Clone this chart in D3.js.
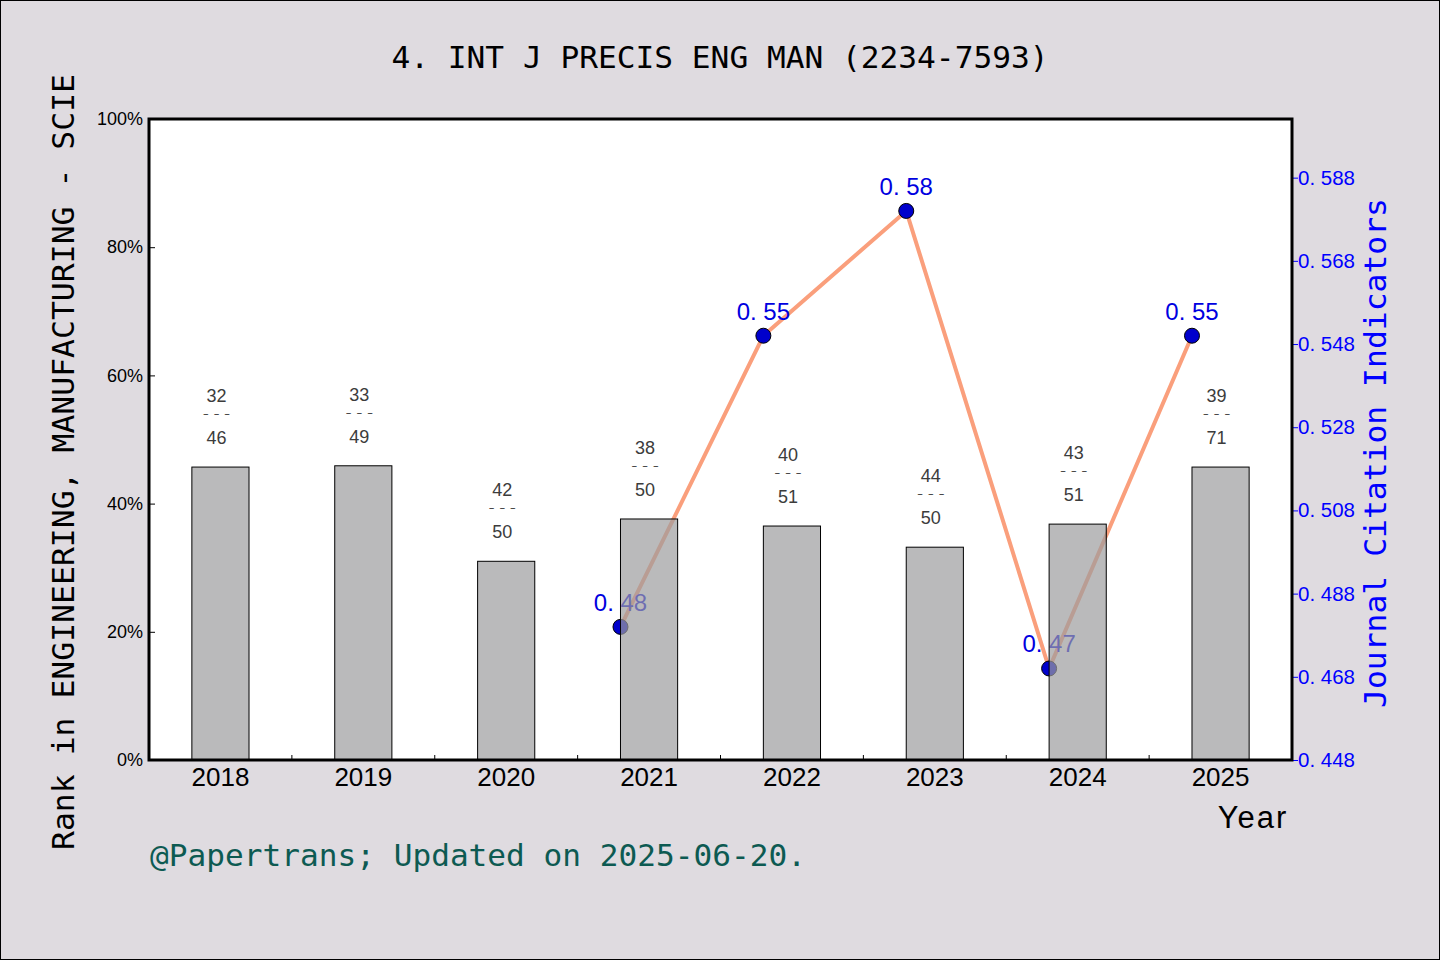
<!DOCTYPE html>
<html>
<head>
<meta charset="utf-8">
<script src="https://cdn.jsdelivr.net/npm/d3@7"></script>
<style>
  body { margin: 0; background: #dfdbe0; }
  svg { display: block; }
</style>
</head>
<body>
<script>
// chart values
var years = ['2018', '2019', '2020', '2021', '2022', '2023', '2024', '2025'];
var ranks = [32, 33, 42, 38, 40, 44, 43, 39];
var totals = [46, 49, 50, 50, 51, 50, 51, 71];
var barPercent = [45.7, 45.9, 31.0, 37.6, 36.5, 33.2, 36.8, 45.7];
var jciValues = [null, null, null, 0.48, 0.55, 0.58, 0.47, 0.55];
var leftTicks = [0, 20, 40, 60, 80, 100];
var rightTicks = [0.448, 0.468, 0.488, 0.508, 0.528, 0.548, 0.568, 0.588];

var mono = "'DejaVu Sans Mono', 'Liberation Mono', monospace";
var sans = "'Liberation Sans', Arial, sans-serif";

var W = 1440, H = 960;
// note: "top" is taken by window.top, so plot* names
var plotLeft = 149, plotRight = 1292, plotTop = 119, plotBottom = 760;

var svg = d3.select('body').append('svg')
    .attr('width', W)
    .attr('height', H);

// background + outer frame
svg.append('rect')
    .attr('x', 0.5).attr('y', 0.5)
    .attr('width', W - 1).attr('height', H - 1)
    .attr('fill', '#dfdbe0')
    .attr('stroke', '#000').attr('stroke-width', 1);

var x = d3.scaleBand().domain(years).range([plotLeft, plotRight]);
var yL = d3.scaleLinear().domain([0, 100]).range([plotBottom, plotTop]);
var yR = d3.scaleLinear().domain([0.448, 0.6021]).range([plotBottom, plotTop]);

var barW = x.bandwidth() * 0.4;
// the jci points sit on the left edge of each bar
function lineX(year) { return x(year) + (x.bandwidth() - barW) / 2; }

// plot area
svg.append('rect')
    .attr('x', plotLeft).attr('y', plotTop)
    .attr('width', plotRight - plotLeft).attr('height', plotBottom - plotTop)
    .attr('fill', '#fff');

// jci line and points (drawn under the bars)
var pts = years.map(function (y, i) { return { year: y, v: jciValues[i] }; })
    .filter(function (d) { return d.v != null; });

var line = d3.line()
    .x(function (d) { return lineX(d.year); })
    .y(function (d) { return yR(d.v); });

svg.append('path')
    .datum(pts)
    .attr('d', line)
    .attr('fill', 'none')
    .attr('stroke', '#fa9f7c')
    .attr('stroke-width', 4);

svg.selectAll('.jci-label')
    .data(pts)
    .enter().append('text')
    .attr('x', function (d) { return lineX(d.year); })
    .attr('y', function (d) { return yR(d.v) - 16; })
    .attr('text-anchor', 'middle')
    .attr('font-family', sans)
    .attr('font-size', 24)
    .attr('fill', '#0000e0')
    .text(function (d) { return d3.format('.2f')(d.v).replace('.', '. '); });

svg.selectAll('.jci-dot')
    .data(pts)
    .enter().append('circle')
    .attr('cx', function (d) { return lineX(d.year); })
    .attr('cy', function (d) { return yR(d.v); })
    .attr('r', 7.5)
    .attr('fill', '#0000cc')
    .attr('stroke', '#000')
    .attr('stroke-width', 1);

// bars, semi transparent on top
svg.selectAll('.bar')
    .data(years)
    .enter().append('rect')
    .attr('x', function (d) { return x(d) + (x.bandwidth() - barW) / 2; })
    .attr('y', function (d, i) { return yL(barPercent[i]); })
    .attr('width', barW)
    .attr('height', function (d, i) { return plotBottom - yL(barPercent[i]); })
    .attr('fill', 'rgba(156,156,158,0.7)')
    .attr('stroke', '#000')
    .attr('stroke-width', 1);

// rank / total labels
var frac = svg.selectAll('.frac')
    .data(years)
    .enter().append('g')
    .attr('transform', function (d, i) {
        return 'translate(' + (x(d) + x.bandwidth() / 2 - 4) + ',' + yL(barPercent[i]) + ')';
    })
    .attr('font-family', sans)
    .attr('font-size', 18)
    .attr('fill', '#3c3c3c')
    .attr('text-anchor', 'middle');

frac.append('text').attr('y', -65).text(function (d, i) { return ranks[i]; });
frac.append('text').attr('y', -50)
    .attr('font-family', mono)
    .attr('font-size', 11)
    .attr('textLength', 32)
    .attr('lengthAdjust', 'spacingAndGlyphs')
    .text('---');
frac.append('text').attr('y', -23).text(function (d, i) { return totals[i]; });

// axes
var xAxis = svg.append('g')
    .attr('transform', 'translate(0,' + plotBottom + ')');
xAxis.selectAll('line')
    .data(years.slice(1))
    .enter().append('line')
    .attr('x1', function (d) { return x(d); })
    .attr('x2', function (d) { return x(d); })
    .attr('y1', 0).attr('y2', -5)
    .attr('stroke', '#000');
xAxis.selectAll('text')
    .data(years)
    .enter().append('text')
    .attr('x', function (d) { return x(d) + x.bandwidth() / 2; })
    .attr('y', 26)
    .attr('text-anchor', 'middle')
    .attr('font-family', sans)
    .attr('font-size', 26)
    .attr('fill', '#000')
    .text(function (d) { return d; });

var lAxis = svg.append('g')
    .attr('transform', 'translate(' + plotLeft + ',0)')
    .call(d3.axisLeft(yL).tickValues(leftTicks).tickSize(-6).tickPadding(6)
        .tickFormat(function (d) { return d + '%'; }));
lAxis.select('.domain').remove();
lAxis.selectAll('text')
    .attr('font-family', sans)
    .attr('font-size', 18)
    .attr('fill', '#000');

var rAxis = svg.append('g')
    .attr('transform', 'translate(' + plotRight + ',0)')
    .call(d3.axisRight(yR).tickValues(rightTicks).tickSize(6).tickPadding(0)
        .tickFormat(function (d) { return d3.format('.3f')(d).replace('.', '. '); }));
rAxis.select('.domain').remove();
rAxis.selectAll('line').attr('stroke', '#0000ff');
rAxis.selectAll('text')
    .attr('font-family', sans)
    .attr('font-size', 20.5)
    .attr('fill', '#0000ff');

// plot frame
svg.append('rect')
    .attr('x', plotLeft).attr('y', plotTop)
    .attr('width', plotRight - plotLeft).attr('height', plotBottom - plotTop)
    .attr('fill', 'none')
    .attr('stroke', '#000')
    .attr('stroke-width', 3);

// titles
svg.append('text')
    .attr('x', 720).attr('y', 68)
    .attr('text-anchor', 'middle')
    .attr('font-family', mono)
    .attr('font-size', 31)
    .attr('textLength', 657)
    .attr('lengthAdjust', 'spacingAndGlyphs')
    .text('4. INT J PRECIS ENG MAN (2234-7593)');

svg.append('text')
    .attr('transform', 'translate(74,462) rotate(-90)')
    .attr('text-anchor', 'middle')
    .attr('font-family', mono)
    .attr('font-size', 31)
    .attr('textLength', 776)
    .attr('lengthAdjust', 'spacingAndGlyphs')
    .text('Rank in ENGINEERING, MANUFACTURING - SCIE');

svg.append('text')
    .attr('transform', 'translate(1386,453) rotate(-90)')
    .attr('text-anchor', 'middle')
    .attr('font-family', mono)
    .attr('font-size', 31)
    .attr('fill', '#0000ff')
    .attr('textLength', 510)
    .attr('lengthAdjust', 'spacingAndGlyphs')
    .text('Journal Citation Indicators');

svg.append('text')
    .attr('x', 1253).attr('y', 828)
    .attr('text-anchor', 'middle')
    .attr('font-family', sans)
    .attr('font-size', 31)
    .attr('letter-spacing', 2)
    .text('Year');

svg.append('text')
    .attr('x', 150).attr('y', 866)
    .attr('font-family', mono)
    .attr('font-size', 31)
    .attr('fill', '#0d5a52')
    .attr('textLength', 656)
    .attr('lengthAdjust', 'spacingAndGlyphs')
    .text('@Papertrans; Updated on 2025-06-20.');
</script>
</body>
</html>
